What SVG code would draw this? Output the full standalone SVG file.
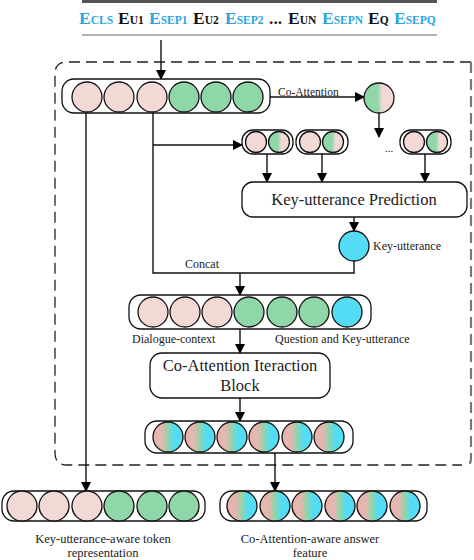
<svg xmlns="http://www.w3.org/2000/svg" width="474" height="560" viewBox="0 0 474 560">
<defs>
<marker id="ah" markerUnits="userSpaceOnUse" markerWidth="10" markerHeight="10" refX="9" refY="5" orient="auto"><path d="M0,0 L10,5 L0,10 Z" fill="#000"/></marker>
<linearGradient id="gp" x1="0" x2="1" y1="0" y2="0"><stop offset="0" stop-color="#8fd6a8"/><stop offset="0.45" stop-color="#8fd6a8"/><stop offset="0.62" stop-color="#f2d9d5"/><stop offset="1" stop-color="#f2d9d5"/></linearGradient>
<linearGradient id="tri" x1="0" x2="1" y1="0" y2="0"><stop offset="0" stop-color="#e5b5b0"/><stop offset="0.3" stop-color="#e5b5b0"/><stop offset="0.5" stop-color="#8fd6a8"/><stop offset="0.7" stop-color="#54dcf5"/><stop offset="1" stop-color="#54dcf5"/></linearGradient>
</defs>
<style>
.c{stroke:#111;stroke-width:1.3}
.p{fill:#f2d9d5}.g{fill:#8fd6a8}.b{fill:#54dcf5}.h{fill:url(#gp)}.t{fill:url(#tri)}
.box{fill:#fff;stroke:#111;stroke-width:1.3}
.ln{fill:none;stroke:#111;stroke-width:1.4}
.ar{fill:none;stroke:#111;stroke-width:1.4;marker-end:url(#ah)}
.tx{font-family:"Liberation Serif","Times New Roman",serif;fill:#222}
.e{font-family:"Liberation Serif","Times New Roman",serif;font-weight:bold;font-size:17.5px}
.s{font-size:11.5px}
.bl{fill:#2aa6df}.bk{fill:#111}
</style>
<rect width="474" height="560" fill="#fff"/>
<g id="input">
<rect x="82" y="0" width="355" height="3" fill="#555"/>
<line x1="82" y1="35" x2="437" y2="35" stroke="#666" stroke-width="1"/>
<text class="e bl" x="79" y="24">E<tspan class="s">CLS</tspan></text>
<text class="e bk" x="118" y="24">E<tspan class="s">U1</tspan></text>
<text class="e bl" x="149" y="24">E<tspan class="s">SEP1</tspan></text>
<text class="e bk" x="193" y="24">E<tspan class="s">U2</tspan></text>
<text class="e bl" x="225" y="24">E<tspan class="s">SEP2</tspan></text>
<text class="e bk" x="269" y="24">...</text>
<text class="e bk" x="288" y="24">E<tspan class="s">UN</tspan></text>
<text class="e bl" x="322" y="24">E<tspan class="s">SEPN</tspan></text>
<text class="e bk" x="368" y="24">E<tspan class="s">Q</tspan></text>
<text class="e bl" x="394" y="24">E<tspan class="s">SEPQ</tspan></text>
</g>
<g id="frame">
<path d="M471,62 H67 Q55,62 55,74 V453 Q55,465 67,465 H462" fill="none" stroke="#222" stroke-width="1.3" stroke-dasharray="11,6"/>
<path d="M471,62 V458 Q471,465 466,467" fill="none" stroke="#777" stroke-width="2.2" stroke-dasharray="11,6"/>
</g>
<g id="connectors">
<line class="ar" x1="161" y1="40" x2="161" y2="79"/>
<line class="ar" x1="270" y1="97" x2="364" y2="97"/>
<line class="ar" x1="379" y1="113" x2="379" y2="137"/>
<path class="ln" d="M153,113 V273 H354 V261"/>
<line class="ar" x1="153" y1="145" x2="242" y2="145"/>
<line class="ar" x1="267" y1="154" x2="267" y2="182"/>
<line class="ar" x1="322" y1="154" x2="322" y2="182"/>
<line class="ar" x1="425" y1="154" x2="425" y2="182"/>
<line class="ar" x1="354" y1="217" x2="354" y2="231"/>
<line class="ar" x1="240" y1="273" x2="240" y2="295"/>
<line class="ar" x1="240" y1="329" x2="240" y2="353"/>
<line class="ar" x1="240" y1="398" x2="240" y2="421"/>
<line class="ar" x1="86" y1="113" x2="86" y2="491"/>
<line class="ar" x1="275" y1="453" x2="275" y2="491"/>
<text class="tx" x="278" y="96" font-size="11.5">Co-Attention</text>
<text class="tx" x="185" y="268" font-size="12">Concat</text>
</g>
<g id="tokens">
<rect class="box" x="62" y="79" width="208" height="34" rx="12"/>
<circle class="c p" cx="87" cy="97" r="15"/><circle class="c p" cx="119" cy="97" r="15"/><circle class="c p" cx="152" cy="97" r="15"/>
<circle class="c g" cx="184" cy="97" r="15"/><circle class="c g" cx="216" cy="97" r="15"/><circle class="c g" cx="248" cy="97" r="15"/>
</g>
<g id="coatt">
<circle class="c h" cx="379" cy="98" r="15"/>
</g>
<g id="pair1">
<rect class="box" x="242" y="130" width="51" height="24" rx="11"/>
<circle class="c p" cx="256" cy="142" r="10.5"/><circle class="c h" cx="279" cy="142" r="10.5"/>
</g>
<g id="pair2">
<rect class="box" x="296" y="130" width="52" height="24" rx="11"/>
<circle class="c p" cx="310" cy="142" r="10.5"/><circle class="c h" cx="333" cy="142" r="10.5"/>
</g>
<text class="tx" x="385" y="152" font-size="11">...</text>
<g id="pair3">
<rect class="box" x="400" y="130" width="51" height="24" rx="11"/>
<circle class="c p" cx="414" cy="142" r="10.5"/><circle class="c h" cx="437" cy="142" r="10.5"/>
</g>
<g id="kup">
<rect class="box" x="242" y="182" width="225" height="35" rx="11"/>
<text class="tx" x="354" y="205" font-size="16.5" text-anchor="middle">Key-utterance Prediction</text>
</g>
<g id="ku">
<circle class="c b" cx="354" cy="246" r="15"/>
<text class="tx" x="373" y="250" font-size="12">Key-utterance</text>
</g>
<g id="concat">
<rect class="box" x="129" y="295" width="242" height="34" rx="12"/>
<circle class="c p" cx="153" cy="312" r="15"/><circle class="c p" cx="185" cy="312" r="15"/><circle class="c p" cx="217" cy="312" r="15"/>
<circle class="c g" cx="249" cy="312" r="15"/><circle class="c g" cx="282" cy="312" r="15"/><circle class="c g" cx="314" cy="312" r="15"/>
<circle class="c b" cx="347" cy="312" r="15"/>
<text class="tx" x="132" y="343" font-size="12">Dialogue-context</text>
<text class="tx" x="275" y="343" font-size="12">Question and Key-utterance</text>
</g>
<g id="cab">
<rect class="box" x="150" y="353" width="180" height="45" rx="12"/>
<text class="tx" x="240" y="371" font-size="16.5" text-anchor="middle">Co-Attention Iteraction</text>
<text class="tx" x="240" y="391" font-size="16.5" text-anchor="middle">Block</text>
</g>
<g id="cabout">
<rect class="box" x="145" y="421" width="208" height="32" rx="12"/>
<circle class="c t" cx="168" cy="437" r="15"/><circle class="c t" cx="200" cy="437" r="15"/><circle class="c t" cx="232" cy="437" r="15"/>
<circle class="c t" cx="264" cy="437" r="15"/><circle class="c t" cx="297" cy="437" r="15"/><circle class="c t" cx="329" cy="437" r="15"/>
</g>
<g id="out1">
<rect class="box" x="2" y="491" width="203" height="30" rx="12"/>
<circle class="c p" cx="22" cy="506" r="15"/><circle class="c p" cx="54" cy="506" r="15"/><circle class="c p" cx="87" cy="506" r="15"/>
<circle class="c g" cx="119" cy="506" r="15"/><circle class="c g" cx="152" cy="506" r="15"/><circle class="c g" cx="184" cy="506" r="15"/>
<text class="tx" x="103" y="543" font-size="12.5" text-anchor="middle">Key-utterance-aware token</text>
<text class="tx" x="103" y="557" font-size="12.5" text-anchor="middle">representation</text>
</g>
<g id="out2">
<rect class="box" x="220" y="491" width="207" height="30" rx="12"/>
<circle class="c t" cx="242" cy="506" r="15"/><circle class="c t" cx="275" cy="506" r="15"/><circle class="c t" cx="307" cy="506" r="15"/>
<circle class="c t" cx="340" cy="506" r="15"/><circle class="c t" cx="372" cy="506" r="15"/><circle class="c t" cx="405" cy="506" r="15"/>
<text class="tx" x="310" y="543" font-size="12.5" text-anchor="middle">Co-Attention-aware answer</text>
<text class="tx" x="310" y="557" font-size="12.5" text-anchor="middle">feature</text>
</g>
</svg>
